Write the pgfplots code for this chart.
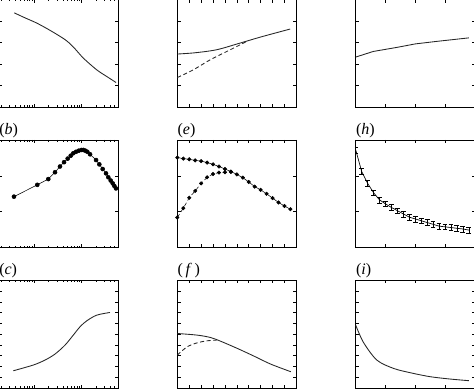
\documentclass[border=0pt]{standalone}
\usepackage{fontspec}
\setmainfont{Liberation Serif}
\usepackage{pgfplots}
\pgfplotsset{compat=1.18}
\pgfplotsset{
 panel/.style={scale only axis, width=89.25pt, height=80.8pt, anchor=south west,
   xticklabels={}, yticklabels={}, tick align=inside,
   major tick length=2.4pt, minor tick length=1.4pt,
   axis line style={line width=0.5pt}, every tick/.style={black, line width=0.4pt},
   enlargelimits=false},
 logp/.style={panel, xmin=0.1794, xmax=58.8, xtick={0.1,1,10,100},
   minor xtick={0.2,0.3,0.4,0.5,0.6,0.7,0.8,0.9,2,3,4,5,6,7,8,9,20,30,40,50,60,70,80,90}},
 lin10/.style={panel, xmin=0, xmax=10, xtick={0,1,...,10}},
 lin4/.style={panel, xmin=0, xmax=4, xtick={0,1,2,3,4}},
 r1/.style={ymin=0, ymax=5, ytick={0,1,...,5}},
 r2/.style={ymin=0, ymax=3, ytick={0,1,2,3}},
 r3/.style={ymin=0, ymax=10, ytick={0,1,...,10}},
 crv/.style={black!85, line width=0.65pt, no markers},
 dsh/.style={black!85, line width=0.65pt, no markers, dash pattern=on 3pt off 2pt},
}
\begin{document}
\begin{tikzpicture}
\useasboundingbox (0,0) rectangle (355.5pt,291.75pt);
\clip (0,0) rectangle (355.5pt,291.75pt);
\tikzset{lab/.style={anchor=base west, inner sep=0pt, font=\fontsize{12}{14}\selectfont}}
% (a)
\begin{semilogxaxis}[logp, r1, name=a, at={(-0.75pt,211.3pt)}]
\addplot[crv, smooth] coordinates {(0.378,4.38) (0.636,4.15) (1.12,3.91) (2.15,3.57) (4.46,3.14) (6.67,2.80) (10.9,2.28) (20.8,1.74) (33.9,1.43) (53.4,1.15)};
\end{semilogxaxis}
% (d)
\begin{axis}[lin10, r1, name=d, at={(133pt,211.3pt)}]
\addplot[crv, smooth] coordinates {(0,2.47) (1.5,2.53) (3.31,2.67) (5.28,2.98) (7.0,3.26) (9.48,3.63)};
\addplot[dsh, smooth] coordinates {(0,1.38) (1.35,1.74) (2.75,2.20) (4.16,2.59) (5.28,2.90) (5.8,3.05)};
\end{axis}
% (g)
\begin{axis}[lin4, r1, name=g, at={(266.8pt,211.3pt)}]
\addplot[crv] coordinates {(0,2.33) (0.59,2.59) (1.39,2.78) (2.0,2.94) (2.74,3.06) (3.8,3.22)};
\end{axis}
% (b)
\begin{semilogxaxis}[logp, r2, name=b, at={(-0.75pt,106pt)}]
\addplot[black, line width=0.4pt, mark=*, mark size=1.5pt] coordinates {
(0.372,1.42) (1.157,1.75) (1.977,1.91) (2.74,2.10) (3.49,2.26) (4.25,2.38) (5.08,2.48)
(5.89,2.56) (6.68,2.63) (7.62,2.67) (8.69,2.70) (9.86,2.72) (10.9,2.72) (12.0,2.70)
(13.2,2.67) (15.1,2.60) (20.2,2.44) (23.7,2.32) (27.9,2.19) (32.8,2.07) (36.7,1.96)
(41.2,1.87) (45.5,1.79) (49.1,1.72) (53.3,1.65)};
\end{semilogxaxis}
\node[lab] at ([yshift=4.1pt]b.north west) {(\textit{b})};
% (e)
\begin{axis}[lin10, r2, name=e, at={(133pt,106pt)}]
\addplot[black, line width=0.4pt, mark=*, mark size=1.3pt] coordinates {
(0,2.51) (0.5,2.48) (1,2.46) (1.5,2.43) (2,2.41) (2.5,2.37) (3,2.32) (3.5,2.26) (4,2.19) (4.5,2.12)
(5,2.04) (5.5,1.95) (6,1.83) (6.5,1.70) (7,1.61) (7.5,1.50) (8,1.38) (8.5,1.26) (9,1.16) (9.5,1.07)};
\addplot[black, line width=0.4pt, mark=*, mark size=1.3pt, dash pattern=on 3pt off 2pt, mark options={solid}] coordinates {
(0,0.84) (0.5,1.10) (1,1.39) (1.5,1.58) (2,1.79) (2.5,1.96) (3,2.05) (3.5,2.09) (4,2.10) (4.5,2.11)};
\end{axis}
\node[lab] at ([yshift=4.1pt]e.north west) {(\textit{e})};
% (h)
\begin{axis}[lin4, r2, name=h, at={(266.8pt,106pt)}]
\addplot[black, line width=0.5pt, mark=none, error bars/.cd, y dir=both, y fixed=0.08,
  error bar style={line width=0.4pt}, error mark options={rotate=90, mark size=1.8pt, line width=0.4pt}]
 coordinates {
(0,2.72) (0.2,2.12) (0.4,1.79) (0.6,1.53) (0.8,1.33) (1.0,1.22) (1.2,1.12) (1.4,1.03) (1.6,0.94) (1.8,0.85)
(2.0,0.80) (2.2,0.75) (2.4,0.70) (2.6,0.65) (2.8,0.60) (3.0,0.58) (3.2,0.56) (3.4,0.54) (3.6,0.52) (3.8,0.49)};
\end{axis}
\node[lab] at ([yshift=4.1pt]h.north west) {(\textit{h})};
% (c)
\begin{semilogxaxis}[logp, r3, name=c, at={(-0.75pt,0.75pt)}]
\addplot[crv, smooth] coordinates {(0.36,1.60) (0.95,2.13) (1.68,2.59) (2.74,3.15) (4.46,3.98) (6.67,4.91) (9.25,5.68) (12.8,6.23) (20.8,6.76) (39.8,7.01)};
\end{semilogxaxis}
\node[lab] at ([yshift=4.1pt]c.north west) {(\textit{c})};
% (f)
\begin{axis}[lin10, r3, name=f, at={(133pt,0.75pt)}]
\addplot[crv, smooth] coordinates {(0,5.06) (1.66,4.91) (2.78,4.69) (3.62,4.35) (5.03,3.68) (6.44,2.96) (7.84,2.22) (9.54,1.51)};
\addplot[dsh, smooth] coordinates {(0,3.06) (0.82,3.82) (1.66,4.19) (2.5,4.38) (3.3,4.44)};
\end{axis}
\node[lab] at ([yshift=4.1pt]f.north west) {(\,\textit{f}\,)};
% (i)
\begin{axis}[lin4, r3, name=i, at={(266.8pt,0.75pt)}]
\addplot[crv, smooth] coordinates {(0,5.83) (0.26,4.23) (0.71,2.59) (1.27,1.82) (1.83,1.42) (2.5,1.05) (3.18,0.83) (3.8,0.68)};
\end{axis}
\node[lab] at ([yshift=4.1pt]i.north west) {(\textit{i})};
\end{tikzpicture}
\end{document}
